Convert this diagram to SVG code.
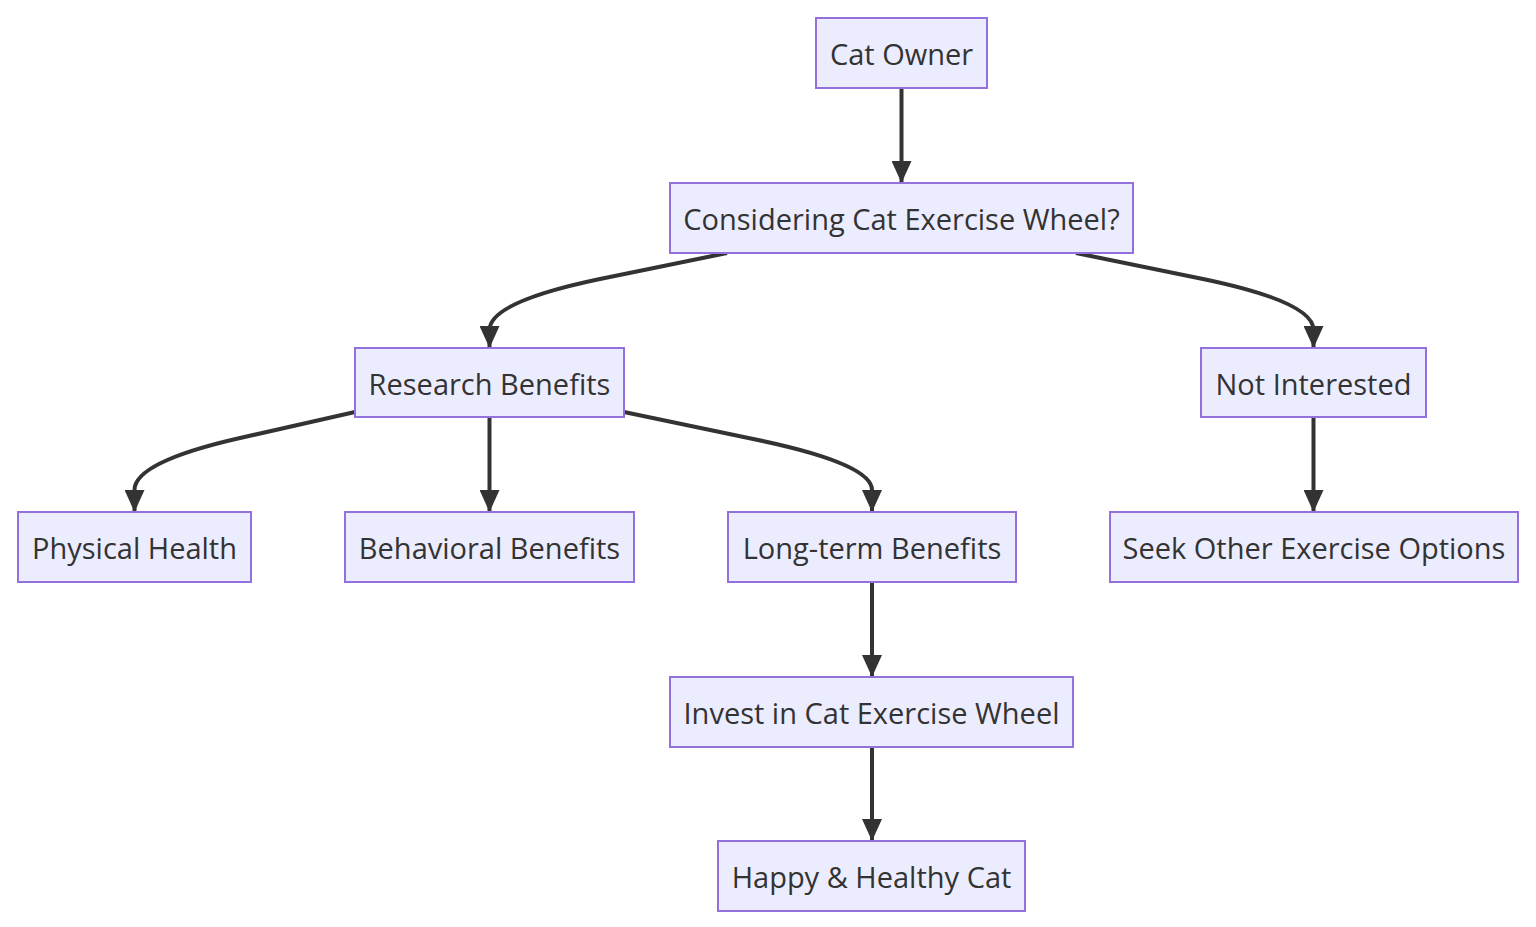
<svg xmlns="http://www.w3.org/2000/svg" width="1536" height="927" viewBox="0 0 1536 927">
<style>
.node rect{fill:#ECECFF;stroke:#9370DB;stroke-width:2}
.node text{font-family:"Open Sans","Noto Sans","DejaVu Sans",sans-serif;font-size:29px;fill:#333;text-anchor:middle;dominant-baseline:central}
.edges path{fill:none;stroke:#333;stroke-width:4}
</style>
<defs>
<marker id="arr" markerUnits="userSpaceOnUse" viewBox="0 0 22 20" refX="22" refY="10" markerWidth="22" markerHeight="20" orient="auto">
<path d="M0,0 L22,10 L0,20 z" fill="#333" stroke="none"/>
</marker>
</defs>
<rect width="1536" height="927" fill="#fff"/>
<g class="edges">
<path d="M901.5,88 L901.5,183" marker-end="url(#arr)"/>
<path d="M727,253 L600,279 Q489.5,302 489.5,330 L489.5,348" marker-end="url(#arr)"/>
<path d="M1076,253 L1203,279 Q1313.5,302 1313.5,330 L1313.5,348" marker-end="url(#arr)"/>
<path d="M355,412 L240,438 Q134.5,462 134.5,490 L134.5,512" marker-end="url(#arr)"/>
<path d="M489.5,417 L489.5,512" marker-end="url(#arr)"/>
<path d="M624,412 L758,440 Q872,464 872,490 L872,512" marker-end="url(#arr)"/>
<path d="M1313.5,417 L1313.5,512" marker-end="url(#arr)"/>
<path d="M872,582 L872,677" marker-end="url(#arr)"/>
<path d="M872,747 L872,841" marker-end="url(#arr)"/>
</g>
<g id="catOwner" class="node"><rect x="816" y="18" width="171" height="70"/><text x="901.5" y="53">Cat Owner</text></g>
<g id="considering" class="node"><rect x="670" y="183" width="463" height="70"/><text x="901.5" y="218">Considering Cat Exercise Wheel?</text></g>
<g id="research" class="node"><rect x="355" y="348" width="269" height="69"/><text x="489.5" y="383">Research Benefits</text></g>
<g id="notInterested" class="node"><rect x="1201" y="348" width="225" height="69"/><text x="1313.5" y="383">Not Interested</text></g>
<g id="physical" class="node"><rect x="18" y="512" width="233" height="70"/><text x="134.5" y="547">Physical Health</text></g>
<g id="behavioral" class="node"><rect x="345" y="512" width="289" height="70"/><text x="489.5" y="547">Behavioral Benefits</text></g>
<g id="longterm" class="node"><rect x="728" y="512" width="288" height="70"/><text x="872" y="547">Long-term Benefits</text></g>
<g id="seek" class="node"><rect x="1110" y="512" width="408" height="70"/><text x="1314" y="547">Seek Other Exercise Options</text></g>
<g id="invest" class="node"><rect x="670" y="677" width="403" height="70"/><text x="871.5" y="712">Invest in Cat Exercise Wheel</text></g>
<g id="happy" class="node"><rect x="718" y="841" width="307" height="70"/><text x="871.5" y="876">Happy &amp; Healthy Cat</text></g>
</svg>
